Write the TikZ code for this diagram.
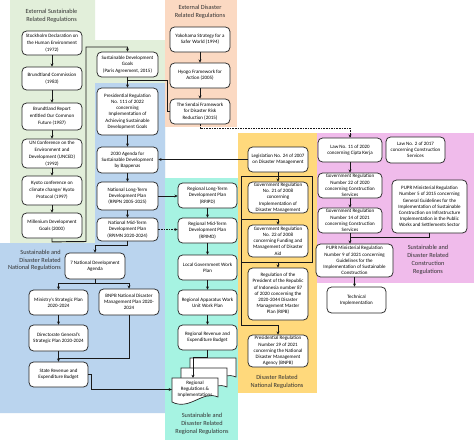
\documentclass[tikz,border=0pt]{standalone}
\usepackage{fontspec}
\setmainfont{Carlito}
\usetikzlibrary{arrows.meta}
\definecolor{cgreen}{HTML}{E2EFDA}
\definecolor{cblue}{HTML}{BAD4EE}
\definecolor{corange}{HTML}{FBD9C2}
\definecolor{cyellow}{HTML}{FFD97C}
\definecolor{cpink}{HTML}{F0BBEB}
\definecolor{ccyan}{HTML}{A6F3E2}
\definecolor{ctitle}{HTML}{333333}
\tikzset{
 box/.style={draw=black!85, line width=0.75pt, rounded corners=4.5pt, fill=white, align=center, font=\fontsize{5}{6.2}\selectfont, inner sep=0.5pt},
 gbox/.style={box, font=\fontsize{5}{7}\selectfont},
 arr/.style={-{Stealth[length=3.2pt,width=3pt]}, line width=0.95pt, draw=black!90},
 ln/.style={line width=0.95pt, draw=black!90},
 dsh/.style={dash pattern=on 1.6pt off 1pt},
 ttl/.style={align=center, font=\fontsize{6.3}{7.8}\selectfont, text=ctitle, inner sep=0pt},
 page/.style={fill=white, draw=black!85, line width=0.7pt}
}
\newcommand\regbox[7][box]{%
 \pgfmathsetmacro\bxcx{(#3+#5)/2}%
 \pgfmathsetmacro\bxcy{(#4+#6)/2}%
 \pgfmathsetmacro\bxw{#5-#3}%
 \pgfmathsetmacro\bxh{#6-#4}%
 \node[#1, minimum width=\bxw pt, minimum height=\bxh pt] (#2) at (\bxcx,\bxcy) {#7};}
\newcommand\docpage[2]{%
 \filldraw[page] (#1,#2) -- (#1+46,#2) -- (#1+46,#2+19) .. controls (#1+30,#2+12) and (#1+18,#2+33) .. (#1,#2+24) -- cycle;}
\begin{document}
\begin{tikzpicture}[x=1pt,y=-1pt]
\useasboundingbox (0,0) rectangle (474,440);
\fill[white] (0,0) rectangle (474,440);
% panels
\fill[cgreen] (10,0) -- (95,0) -- (95,40) -- (165,40) -- (165,243) -- (10,243) -- cycle;
\fill[cblue] (95,83) -- (165,83) -- (165,413) -- (0,413) -- (0,243) -- (95,243) -- cycle;
\fill[corange] (165,0) rectangle (237,127);
\fill[ccyan] (165,178) rectangle (238,440);
\fill[cyellow] (238,133) rectangle (317,393);
\fill[cpink] (317,133) rectangle (474,283);
% titles
\node[ttl] (tg) at (51.5,15.5) {External Sustainable\\Related Regulations};
\node[ttl] (to) at (200,12) {External Disaster\\Related Regulations};
\node[ttl, align=right, anchor=east] (tb) at (61,260.5) {Sustainable and\\Disaster Related\\National Regulations};
\node[ttl] (ty) at (277,382) {Disaster Related\\National Regulations};
\node[ttl] (tp) at (428,260) {Sustainable and\\Disaster Related\\Construction\\Regulations};
\node[ttl] (tc) at (202,424) {Sustainable and\\Disaster Related\\Regional Regulations};
% green column
\regbox[gbox]{n1}{22}{31}{82}{55}{Stockholm Declaration on\\the Human Environment\\(1972)}
\regbox[gbox]{n2}{22}{67}{82}{90}{Brundtland Commission\\(1983)}
\regbox[gbox]{n3}{22}{103}{82}{130}{Brundtland Report\\entitled Our Common\\Future (1987)}
\regbox[gbox]{n4}{22}{139}{82}{168}{UN Conference on the\\Environment and\\Development (UNCED)\\(1992)}
\regbox[gbox]{n5}{22}{176}{82}{205}{Kyoto conference on\\climate change/ Kyoto\\Protocol (1997)}
\regbox[gbox]{n6}{22}{213}{82}{238}{Millenium Development\\Goals (2000)}
% middle column
\regbox{sdg}{97}{52}{158}{77}{Sustainable Development\\Goals\\(Paris Agreement, 2015)}
\regbox{pr111}{97}{88}{158}{135}{Presidential Regulation\\No. 111 of 2022\\concerning\\Implementation of\\Achieving Sustainable\\Development Goals}
\regbox{ag2030}{97}{147}{158}{173}{2030 Agenda for\\Sustainable Development\\by Bappenas}
\regbox{rpjpn}{97}{182}{158}{210}{National Long-Term\\Development Plan\\(RPJPN 2005-2025)}
\regbox{rpjmn}{97}{218}{158}{241}{National Mid-Term\\Development Plan\\(RPJMN 2020-2024)}
% orange column
\regbox{yoko}{170}{27}{230}{52}{Yokohama Strategy for a\\Safer World (1994)}
\regbox{hyogo}{170}{63}{230}{88}{Hyogo Framework for\\Action (2005)}
\regbox{sendai}{170}{99}{230}{124}{The Sendai Framework\\for Disaster Risk\\Reduction (2015)}
% cyan column
\regbox{rpjpd}{178}{183}{237}{208}{Regional Long-Term\\Development Plan\\(RPJPD)}
\regbox{rpjmd}{178}{218}{237}{243}{Regional Mid-Term\\Development Plan\\(RPJMD)}
\regbox{lgwp}{178}{255}{237}{280}{Local Government Work\\Plan}
\regbox{rawu}{178}{290}{237}{315}{Regional Apparatus Work\\Unit Work Plan}
\regbox{rreb}{178}{325}{237}{350}{Regional Revenue and\\Expenditure Budget}
\docpage{190}{358}
\docpage{181}{368}
\docpage{172}{378}
\node[align=center, font=\fontsize{5}{6}\selectfont, minimum width=46pt, minimum height=22pt, inner sep=0pt] (regdoc) at (195,389.5) {Regional\\Regulations \&\\Implementations};
\coordinate (doctop) at (193,378);
% yellow column
\regbox{leg24}{248}{147}{308}{172}{Legislation No. 24 of 2007\\on Disaster Management}
\regbox{gr21}{248}{182}{308}{213}{Government Regulation\\No. 21 of 2008\\concerning\\Implementation of\\Disaster Management}
\regbox{gr22}{248}{225}{308}{257}{Government Regulation\\No. 22 of 2008\\concerning Funding and\\Management of Disaster\\Aid}
\regbox{ripb}{248}{268}{308}{320}{Regulation of the\\President of the Republic\\of Indonesia number 87\\of 2020 concerning the\\2020-2044 Disaster\\Management Master\\Plan (RIPB)}
\regbox{pr29}{248}{335}{308}{367}{Presidential Regulation\\Number 29 of 2021\\concerning the National\\Disaster Management\\Agency (BNPB)}
% pink column
\regbox{law11}{318}{138}{382}{162}{Law No. 11 of 2020\\concerning Cipta Kerja}
\regbox{law2}{386}{137}{445}{163}{Law No. 2 of 2017\\concerning Construction\\Services}
\regbox{gr22c}{318}{173}{382}{198}{Government Regulation\\Number 22 of 2020\\concerning Construction\\Services}
\regbox{gr14}{318}{208}{382}{233}{Government Regulation\\Number 14 of 2021\\concerning Construction\\Services}
\regbox{pupr9}{316}{244}{393}{277}{PUPR Ministerial Regulation\\Number 9 of 2021 concerning\\Guidelines for the\\Implementation of Sustainable\\Construction}
\regbox{pupr5}{392}{180}{467}{233}{PUPR Ministerial Regulation\\Number 5 of 2015 concerning\\General Guidelines for the\\Implementation of Sustainable\\Construction on Infrastructure\\Implementation in the Public\\Works and Settlements Sector}
\regbox{tech}{327}{287}{386}{313}{Technical\\Implementation}
% lower blue
\regbox{nda}{65}{253}{125}{279}{7 National Development\\Agenda}
\regbox{ministry}{29}{290}{88}{315}{Ministry's Strategic Plan\\2020-2024}
\regbox{bnpb}{99}{289}{159}{315}{BNPB National Disaster\\Management Plan 2020-\\2024}
\regbox{dg}{29}{325}{88}{351}{Directorate General's\\Strategic Plan 2020-2024}
\regbox{state}{29}{362}{88}{387}{State Revenue and\\Expenditure Budget}
% ---------- connectors
\foreach \a/\b in {n1/n2,n2/n3,n3/n4,n4/n5,n5/n6,sdg/pr111,pr111/ag2030,ag2030/rpjpn,rpjpn/rpjmn,yoko/hyogo,hyogo/sendai,rpjpd/rpjmd,rpjmd/lgwp,lgwp/rawu,rawu/rreb,law11/gr22c,gr22c/gr14,ministry/dg,dg/state}
  \draw[arr] (\a.south) -- (\b.north);
\draw[arr] (n6.south) -- ++(0,3.5) -- (86,241.5) -- (86,47) -| (sdg.north);
\draw[ln] (sendai.west) -- (167,111.5) -- (167,80.5) -- (sdg.south |- 0,80.5);
\draw[arr] (leg24.west) -- (ag2030.east |- leg24.west);
\draw[arr] (rpjpn.east) -- (rpjpd.west |- rpjpn.east);
\draw[arr,dsh] (rpjmn.east) -- (rpjmd.west |- rpjmn.east);
\draw[arr] (rpjmn.south) -- ++(0,4) -| (nda.north);
\draw[arr,dsh] (sendai.south) -- ++(0,4) -| (law11.north);
\draw[arr] (rreb.south) -- ++(0,7) -| (doctop);
\draw[arr] (state.east) -- ++(3,0) |- (regdoc.west);
% lower blue tree
\draw[ln] (nda.south) -- ++(0,4);
\draw[arr] (nda.south |- 0,283) -| (ministry.north);
\draw[arr] (nda.south |- 0,283) -| (bnpb.north);
\draw[ln] (bnpb.south) |- (state.north |- 0,358);
% yellow bus
\draw[arr] (leg24.south) -- (gr21.north);
\draw[ln] (241,176) rectangle (312,262);
\draw[ln] (241,262) -- (241,325);
\draw[arr] (241,219) -| (gr22.north);
\draw[arr] (gr22.south |- 0,262) -- (ripb.north);
\draw[arr] (241,325) -| (pr29.north);
% pink
\draw[ln] (gr14.south) -- ++(0,4.5);
\draw[ln] (pupr5.south) |- (gr14.south |- 0,237.5);
\draw[arr] (gr14.south |- 0,237.5) -- (gr14.south |- pupr9.north);
\draw[arr] (pupr9.south) -- (pupr9.south |- tech.north);
\end{tikzpicture}
\end{document}
